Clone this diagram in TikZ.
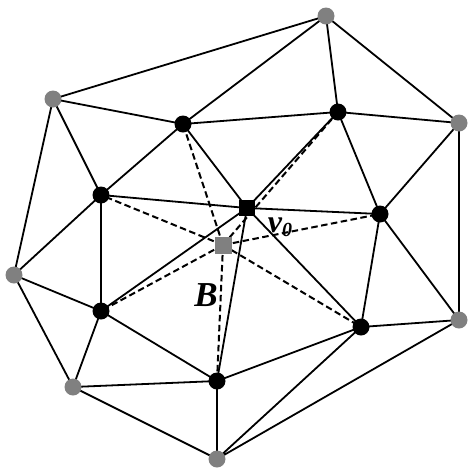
\documentclass[tikz,border=0pt]{standalone}
\usepackage{fontspec}
\setmainfont{Liberation Serif}
\begin{document}
\begin{tikzpicture}[x=1pt,y=-1pt,
  edge/.style={line width=1.8pt},
  dedge/.style={line width=2pt, dash pattern=on 6.5pt off 3.5pt},
  gdot/.style={circle, fill=black!50, inner sep=0pt, minimum size=17pt},
  bdot/.style={circle, fill=black, inner sep=0pt, minimum size=17pt},
  bsq/.style={rectangle, fill=black, inner sep=0pt, minimum size=16pt},
  gsq/.style={rectangle, fill=black!50, inner sep=0pt, minimum size=17pt},
  lab/.style={inner sep=0pt}]
\useasboundingbox (0,0) rectangle (474,475);
% coordinates
\coordinate (g1) at (326,16);
\coordinate (g2) at (53,99);
\coordinate (g3) at (459,123);
\coordinate (g4) at (14,275);
\coordinate (g5) at (459,320);
\coordinate (g6) at (73,387);
\coordinate (g7) at (217,459);
\coordinate (b1) at (183,124);
\coordinate (b2) at (338,112);
\coordinate (b3) at (101,195);
\coordinate (b4) at (380,214);
\coordinate (b5) at (101,311);
\coordinate (b6) at (361,327);
\coordinate (b7) at (217,381);
\coordinate (v0) at (247,208);
\coordinate (B) at (223,245);
% solid edges
\draw[edge] (g2)--(g1) (g2)--(b1) (g2)--(b3) (g2)--(g4)
  (b1)--(g1) (b1)--(b2) (b1)--(b3) (b1)--(v0)
  (g1)--(b2) (g1)--(g3) (b2)--(g3) (b2)--(b4) (b2)--(v0)
  (g3)--(b4) (g3)--(g5)
  (b3)--(v0) (b3)--(b5) (b3)--(g4)
  (v0)--(b4) (b4)--(b6) (b4)--(g5)
  (b5)--(v0) (v0)--(b7) (v0)--(b6)
  (b5)--(g4) (b5)--(g6) (b5)--(b7)
  (g4)--(g6) (g6)--(b7) (g6)--(g7) (b7)--(g7)
  (b7)--(b6) (b6)--(g7) (g5)--(g7) (b6)--(g5);
% dashed edges
\draw[dedge] (B)--(b1) (B)--(b2) (B)--(b3) (B)--(b4) (B)--(b5) (B)--(b6) (B)--(b7);
% nodes
\foreach \n in {g1,g2,g3,g4,g5,g6,g7} \node[gdot] (n\n) at (\n) {};
\foreach \n in {b1,b2,b3,b4,b5,b6,b7} \node[bdot] (n\n) at (\n) {};
\node[bsq] (nv0) at (v0) {};
\node[gsq] (nB) at (B) {};
% labels
\node[lab] (lv0) at (280,227) {\fontsize{32}{32}\selectfont\bfseries\itshape v\raisebox{-4pt}{\fontsize{20}{20}\selectfont 0}};
\node[lab] (lB) at (206,295) {\fontsize{35}{35}\selectfont\bfseries\itshape B};
\end{tikzpicture}
\end{document}
